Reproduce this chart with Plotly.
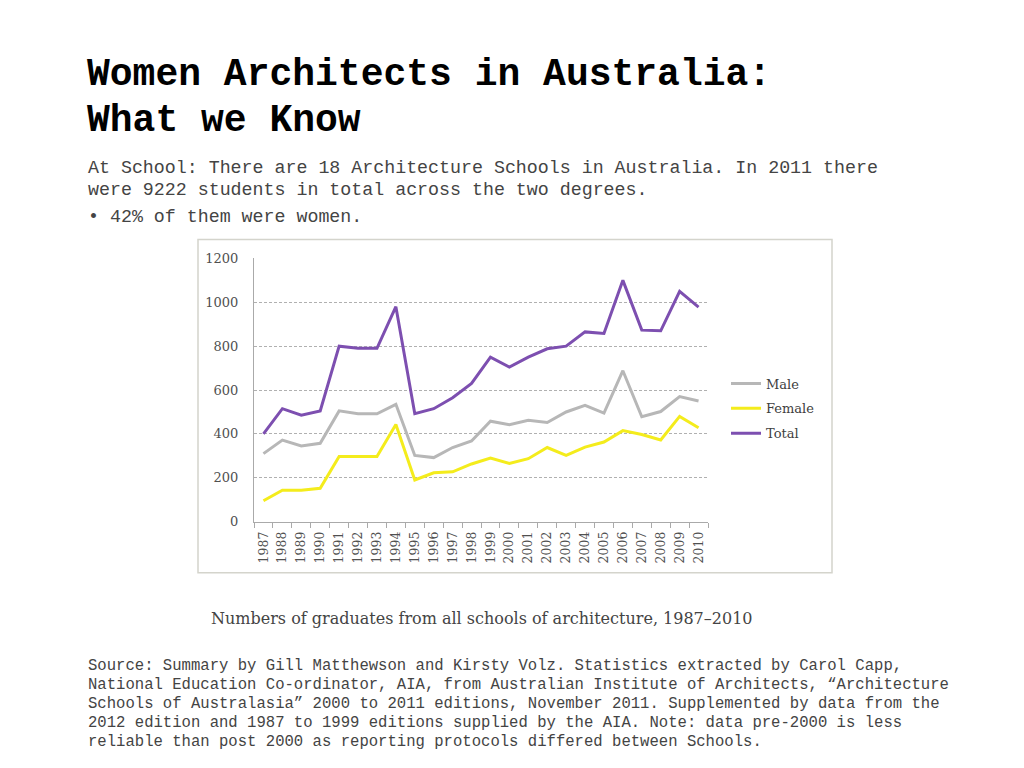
import plotly.graph_objects as go

years = [str(y) for y in range(1987, 2011)]
male = [310, 372, 345, 357, 505, 492, 492, 535, 302, 292, 338, 368, 458, 442,
        462, 452, 500, 530, 495, 688, 478, 502, 570, 550]
female = [95, 143, 143, 152, 297, 297, 297, 443, 190, 223, 227, 263, 290, 265,
          287, 338, 302, 340, 363, 415, 397, 372, 480, 428]
total = [400, 515, 485, 505, 800, 790, 790, 980, 492, 515, 565, 630, 750, 705,
         750, 788, 800, 865, 858, 1100, 873, 870, 1050, 978]
y_ticks = [0, 200, 400, 600, 800, 1000, 1200]

fig = go.Figure()
series = [("Male", male, "#b7b7b7"), ("Female", female, "#f4ec1c"), ("Total", total, "#7d4fb0")]
for name, vals, col in series:
    fig.add_trace(go.Scatter(x=years, y=vals, name=name, mode="lines",
                             line=dict(color=col, width=3), legendgroup=name))

W, H = 1024, 768
def px(x): return x / W
def py(y):
    ys = (y - 6.8) / 0.9796
    return 1 - ys / H

serif = "DejaVu Serif"
fig.update_layout(
    width=W, height=H, autosize=False,
    margin=dict(l=0, r=0, t=0, b=0),
    paper_bgcolor="white", plot_bgcolor="white",
    showlegend=True,
    legend=dict(x=px(726), y=py(368), xanchor="left", yanchor="top",
                font=dict(family=serif, size=13, color="#404040"),
                traceorder="grouped", tracegroupgap=5, itemwidth=30,
                bgcolor="rgba(0,0,0,0)"),
    xaxis=dict(domain=[px(254), px(708)], type="category", range=[-0.5, 23.5],
               tickangle=-90, tickson="boundaries", ticks="outside", ticklen=5,
               tickcolor="#aaaaaa", showline=True, linecolor="#aaaaaa", linewidth=1,
               showgrid=False, ticklabelstandoff=4,
               tickfont=dict(family=serif, size=12.5, color="#505050")),
    yaxis=dict(domain=[py(521), py(258)], range=[0, 1200], tickvals=y_ticks,
               showline=True, linecolor="#aaaaaa", linewidth=1,
               showgrid=True, gridcolor="#b0b0b0", gridwidth=1, griddash="3px,2px",
               zeroline=False, ticks="", ticklabelstandoff=12,
               tickfont=dict(family=serif, size=13, color="#505050")),
)

# chart frame
fig.add_shape(type="rect", xref="paper", yref="paper",
              x0=px(198), x1=px(832), y0=py(572), y1=py(239),
              line=dict(color="#d4d4cc", width=1.5), layer="below")

mono = "Liberation Mono, Courier New, monospace"
def txt(x, y, s, size, bold=False, color="#222222", family=mono):
    fig.add_annotation(xref="paper", yref="paper", x=px(x), y=py(y + 1.5), xanchor="left",
                       yanchor="middle", showarrow=False, align="left",
                       text=f"<b>{s}</b>" if bold else s,
                       font=dict(family=family, size=size, color=color))

txt(85, 73, "Women Architects in Australia:", 38, bold=True, color="#000000")
txt(85, 119, "What we Know", 38, bold=True, color="#000000")
txt(86, 166, "At School: There are 18 Architecture Schools in Australia. In 2011 there", 18.3, color="#444444")
txt(86, 188, "were 9222 students in total across the two degrees.", 18.3, color="#444444")
txt(86, 215, "• 42% of them were women.", 18.3, color="#444444")

txt(209, 616, "Numbers of graduates from all schools of architecture, 1987–2010", 16,
    color="#444444", family=serif)

src = ["Source: Summary by Gill Matthewson and Kirsty Volz. Statistics extracted by Carol Capp,",
       "National Education Co-ordinator, AIA, from Australian Institute of Architects, “Architecture",
       "Schools of Australasia” 2000 to 2011 editions, November 2011. Supplemented by data from the",
       "2012 edition and 1987 to 1999 editions supplied by the AIA. Note: data pre-2000 is less",
       "reliable than post 2000 as reporting protocols differed between Schools."]
for i, line in enumerate(src):
    txt(86, 664 + 19 * i, line, 15.6, color="#444444")

fig.write_html("out.html")
